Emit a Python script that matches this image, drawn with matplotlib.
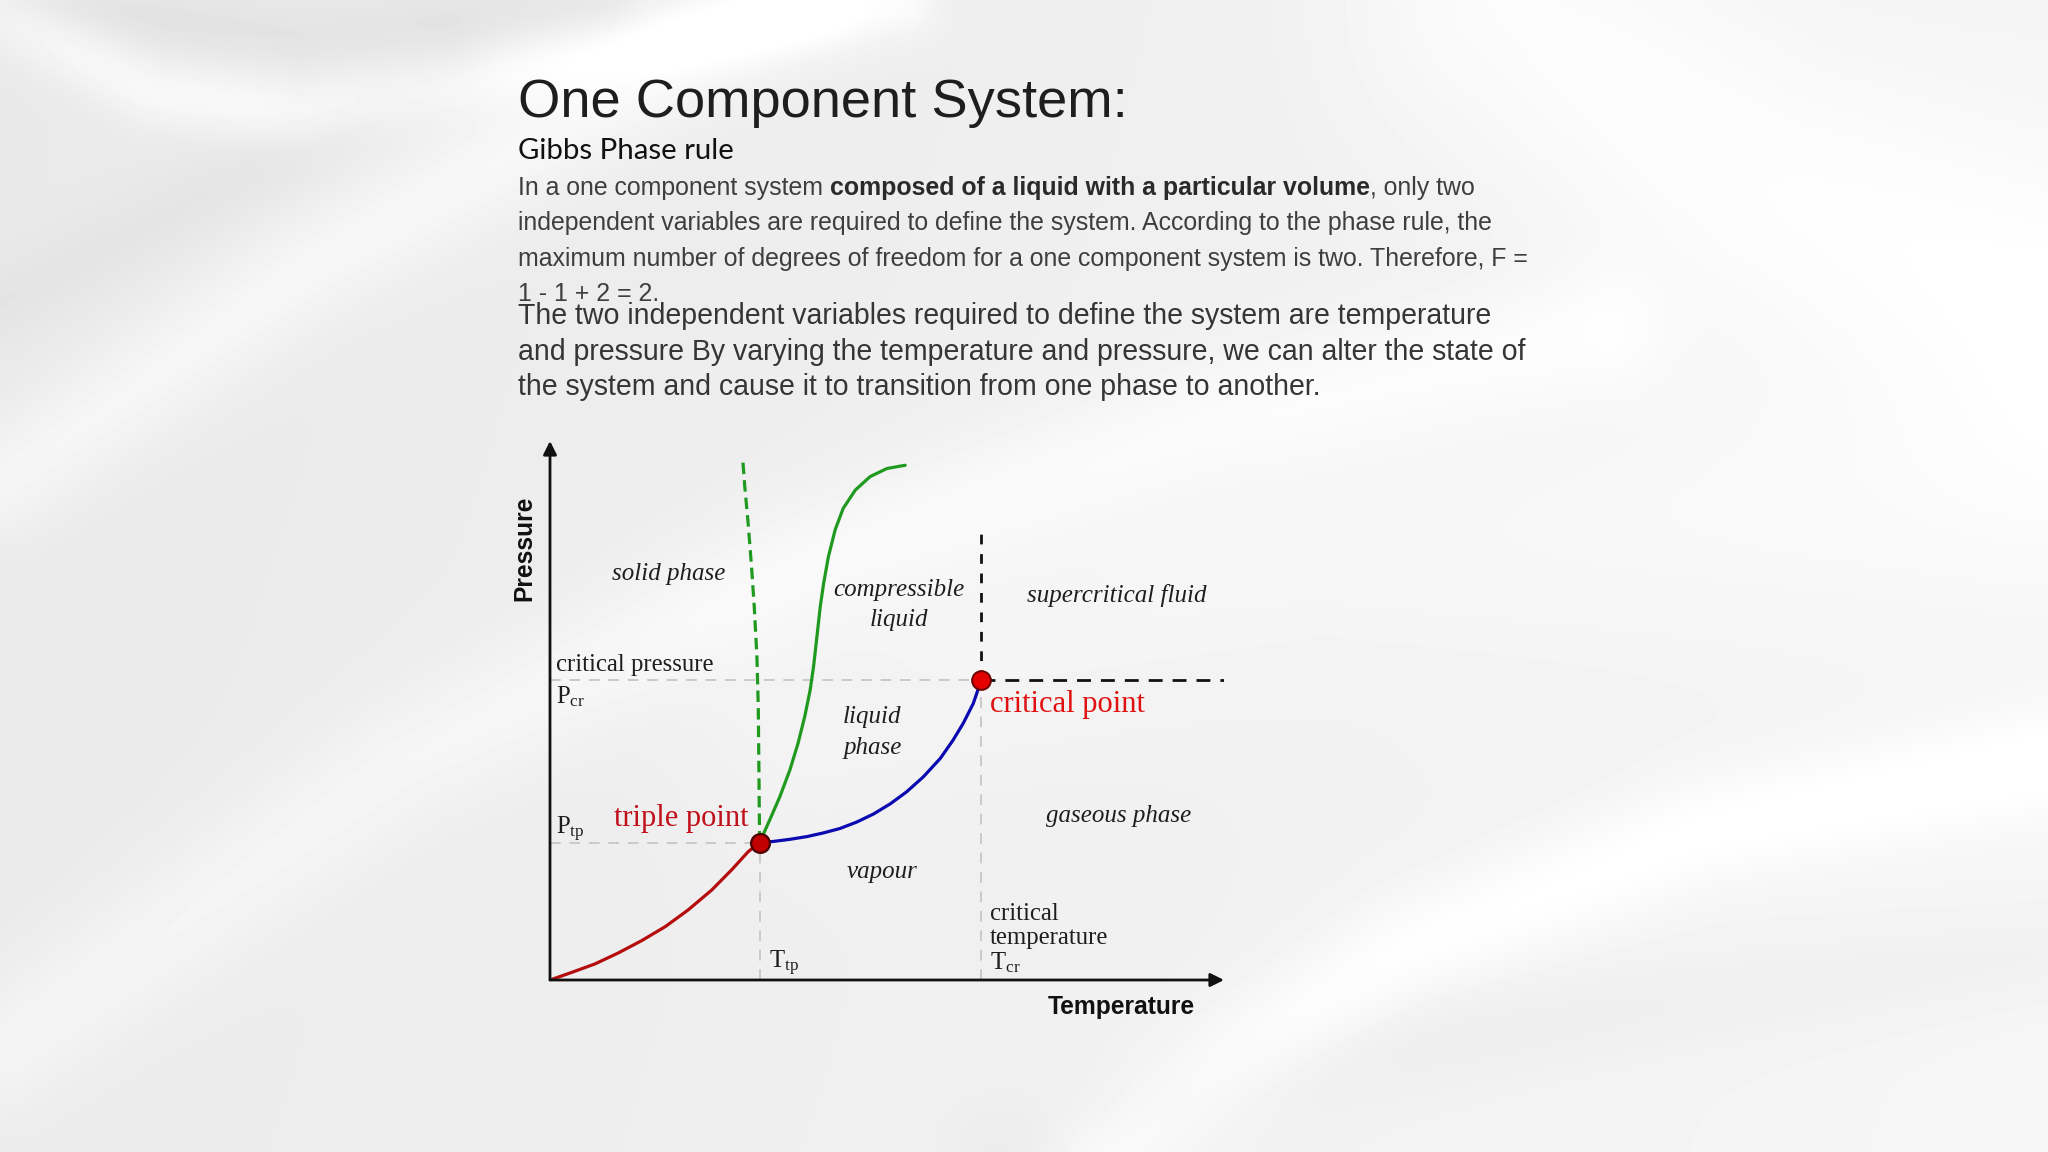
import numpy as np
import matplotlib
matplotlib.use("Agg")
import matplotlib.pyplot as plt

plt.rcParams['mathtext.fontset'] = 'custom'
plt.rcParams['mathtext.rm'] = 'Liberation Serif'
plt.rcParams['mathtext.it'] = 'Liberation Serif:italic'

# ---------------- data (normalised temperature T / pressure P, 0..100) -------------
sub_T = [0, 3.2, 6.7, 10.1, 13.6, 17.1, 20.5, 24.0, 27.0, 29.4, 31.1]          # sublimation curve
sub_P = [0, 1.4, 3.0, 5.0, 7.3, 9.9, 13.0, 16.7, 20.5, 23.8, 25.5]
vap_T = [31.1, 33.1, 35.6, 38.1, 40.6, 43.0, 45.5, 48.0, 50.5, 52.9, 55.4, 57.9,
         59.8, 61.3, 62.8, 64.0]                                                 # vaporisation curve
vap_P = [25.5, 25.7, 26.1, 26.6, 27.3, 28.1, 29.3, 30.8, 32.7, 34.9, 37.7, 41.1,
         44.5, 47.6, 51.3, 55.7]
fus_T = [31.1, 32.6, 34.1, 35.6, 36.8, 37.8, 38.6, 39.1, 39.6, 40.1, 40.6, 41.3,
         42.3, 43.5, 45.3, 47.5, 50.0, 52.7]                                     # melting curve
fus_P = [25.5, 29.7, 34.0, 39.0, 43.9, 48.9, 53.8, 58.1, 63.7, 69.3, 73.6, 78.5,
         83.5, 87.5, 90.9, 93.4, 94.9, 95.5]
anom_T = [31.1, 31.0, 30.9, 30.7, 30.3, 29.9, 29.4, 28.9, 28.6]                  # dashed melting curve
anom_P = [25.5, 38.3, 50.7, 60.0, 69.3, 76.7, 84.7, 91.5, 96.5]
T_tp, P_tp = 31.1, 25.5
T_cr, P_cr = 64.0, 55.7
P_cr_top = 84.2
axis_end = 100

title = "One Component System:"
subtitle = "Gibbs Phase rule"
p1_a = "In a one component system "
p1_b = "composed of a liquid with a particular volume"
p1_c = ", only two"
p1_lines = ["independent variables are required to define the system. According to the phase rule, the",
            "maximum number of degrees of freedom for a one component system is two. Therefore, F =",
            "1 - 1 + 2 = 2."]
p2_lines = ["The two independent variables required to define the system are temperature",
            "and pressure By varying the temperature and pressure, we can alter the state of",
            "the system and cause it to transition from one phase to another."]

W, H = 2048, 1152
fig = plt.figure(figsize=(W / 100, H / 100), dpi=100)

# ---------------- background (decorative soft waves) ---------------------------------
bg = fig.add_axes([0, 0, 1, 1])
s = 4
gy, gx = np.mgrid[0:H:s, 0:W:s].astype(float)
img = 0.912 + 0.045 * (gx / W) + 0.008 * (gy / H)

def seg_dist(px, py, pts):
    d = np.full(px.shape, 1e9)
    for (x1, y1), (x2, y2) in zip(pts[:-1], pts[1:]):
        dx, dy = x2 - x1, y2 - y1
        t = np.clip(((px - x1) * dx + (py - y1) * dy) / (dx * dx + dy * dy), 0, 1)
        d = np.minimum(d, np.hypot(px - (x1 + t * dx), py - (y1 + t * dy)))
    return d

bands = [
    ([(0, 10), (150, 90), (300, 110), (500, 70), (700, 30), (900, 0)], 35, 0.055),
    ([(0, 0), (300, 35), (600, 0)], 35, -0.025),
    ([(0, 480), (300, 270), (600, 100), (800, 0)], 55, 0.045),
    ([(0, 300), (250, 170), (450, 60)], 40, -0.02),
    ([(0, 1050), (400, 760), (800, 560), (1200, 420), (1600, 330)], 65, 0.035),
    ([(1500, 0), (1750, 180), (2048, 300)], 160, 0.04),
    ([(1100, 1152), (1400, 950), (1700, 830), (2048, 760)], 55, 0.045),
    ([(1000, 1152), (1350, 1050), (2048, 950)], 50, -0.018),
    ([(800, 700), (1300, 540), (2048, 480)], 130, 0.02),
]
for pts, w, a in bands:
    d = seg_dist(gx, gy, pts)
    img += a * np.exp(-(d / w) ** 2)
img = np.clip(img, 0, 1)
bg.imshow(img, cmap='gray', vmin=0, vmax=1, extent=(0, W, H, 0), interpolation='bilinear', aspect='auto')
bg.set_xlim(0, W)
bg.set_ylim(H, 0)
bg.axis('off')

renderer = fig.canvas.get_renderer()

def fit(t, target):
    w = t.get_window_extent(renderer).width
    t.set_fontsize(t.get_fontsize() * target / w)
    return t

sans = ['Liberation Sans', 'DejaVu Sans']
txtc = '#3e3e3e'

# ---------------- header text --------------------------------------------------------
t = bg.text(518, 117, title, family=sans, fontsize=39, color='#1e1e1e', va='baseline', ha='left')
fit(t, 610)
t = bg.text(518, 159, subtitle, family=['Lato', 'DejaVu Sans'], fontsize=22, color='#111111', va='baseline')
fit(t, 215)

y1 = 195
ref = bg.text(518, y1 + 35.3, p1_lines[0], family=sans, fontsize=17.5, color=txtc, va='baseline')
fit(ref, 974)
fs1 = ref.get_fontsize()
for i, line in enumerate(p1_lines[1:]):
    bg.text(518, y1 + 35.3 * (i + 2), line, family=sans, fontsize=fs1, color=txtc, va='baseline')
ta = bg.text(518, y1, p1_a, family=sans, fontsize=fs1, color=txtc, va='baseline')
tb = bg.annotate(p1_b, xy=(1, y1), xycoords=(ta, bg.transData), family=sans, fontsize=fs1,
                 color='#2a2a2a', fontweight='bold', va='baseline', ha='left')
tb.draw(renderer)
bg.annotate(p1_c, xy=(1, y1), xycoords=(tb, bg.transData), family=sans, fontsize=fs1,
            color=txtc, va='baseline', ha='left')

y2 = 324
r2 = bg.text(518, y2, p2_lines[0], family=sans, fontsize=20, color='#353535', va='baseline')
fit(r2, 972)
fs2 = r2.get_fontsize()
for i, line in enumerate(p2_lines[1:]):
    bg.text(518, y2 + 35.5 * (i + 1), line, family=sans, fontsize=fs2, color='#353535', va='baseline')

# ---------------- phase diagram ------------------------------------------------------
ax = fig.add_axes([550 / W, (H - 980) / H, 674 / W, 539 / H])
ax.set_xlim(0, 100)
ax.set_ylim(0, 100)
ax.axis('off')
ax.patch.set_alpha(0)

gray = '#c9c9c9'
gls = (0, (5.5, 4.5))
ax.plot([0, T_cr], [P_cr, P_cr], color=gray, lw=1.4, ls=gls, zorder=1)
ax.plot([0, T_tp], [P_tp, P_tp], color=gray, lw=1.4, ls=gls, zorder=1)
ax.plot([T_tp, T_tp], [0, P_tp], color=gray, lw=1.4, ls=gls, zorder=1)
ax.plot([T_cr, T_cr], [0, P_cr], color=gray, lw=1.4, ls=gls, zorder=1)
ax.plot([T_cr, T_cr], [P_cr, P_cr_top], color='#111111', lw=2, ls=(0, (3.5, 3.5)), zorder=2)
ax.plot([T_cr, axis_end], [P_cr, P_cr], color='#111111', lw=2, ls=(0, (5, 3.6)), zorder=2)

ax.plot(sub_T, sub_P, color='#b50d0d', lw=2.3, solid_capstyle='round', solid_joinstyle='round', zorder=3)
ax.plot(vap_T, vap_P, color='#0a0ab0', lw=2.3, solid_capstyle='round', solid_joinstyle='round', zorder=3)
ax.plot(fus_T, fus_P, color='#1f9a1f', lw=2.3, solid_capstyle='round', solid_joinstyle='round', zorder=3)
ax.plot(anom_T, anom_P, color='#1f9a1f', lw=2.3, ls=(0, (3.6, 1.9)), zorder=3)

ax.plot([T_tp], [P_tp], 'o', ms=13.5, mfc='#c00000', mec='#4a0000', mew=1.6, zorder=5)
ax.plot([T_cr], [P_cr], 'o', ms=13.5, mfc='#e50000', mec='#6a0000', mew=1.4, zorder=5)

ap = dict(arrowstyle='-|>', lw=2.0, color='#111111', mutation_scale=20, shrinkA=0, shrinkB=0)
ax.annotate('', xy=(0, axis_end), xytext=(0, 0), arrowprops=ap, zorder=4)
ax.annotate('', xy=(axis_end, 0), xytext=(0, 0), arrowprops=ap, zorder=4)

serif = ['Liberation Serif', 'DejaVu Serif']
lc = '#1e1e1e'
phase_labels = [("solid phase", 17.6, 75.4), ("compressible\nliquid", 51.7, 69.6),
                ("supercritical fluid", 84.1, 71.4), ("liquid\nphase", 47.8, 45.9),
                ("gaseous phase", 84.3, 30.4), ("vapour", 49.2, 20.0)]
for s_, x_, y_ in phase_labels:
    ax.text(x_, y_, s_, family=serif, style='italic', fontsize=18, color=lc, ha='center',
            va='center', linespacing=1.5)

ax.text(0.9, 58.5, "critical pressure", family=serif, fontsize=17.8, color=lc, ha='left', va='center')
ax.text(0.9, 52.6, r"P$_{\mathrm{cr}}$", family=serif, fontsize=17.8, color=lc, ha='left', va='center')
ax.text(0.9, 27.9, r"P$_{\mathrm{tp}}$", family=serif, fontsize=17.8, color=lc, ha='left', va='center')
ax.text(32.5, 3.0, r"T$_{\mathrm{tp}}$", family=serif, fontsize=17.8, color=lc, ha='left', va='center')
ax.text(65.3, 7.6, "critical\ntemperature\n" + r"T$_{\mathrm{cr}}$", family=serif, fontsize=17.8,
        color=lc, ha='left', va='center', linespacing=1.1)
ax.text(65.3, 51.2, "critical point", family=serif, fontsize=22, color='#e01010', ha='left', va='center')
ax.text(29.4, 30.0, "triple point", family=serif, fontsize=22, color='#c0101a', ha='right', va='center')

ax.text(84.7, -5.0, "Temperature", family=sans, fontweight='bold', fontsize=17.7, color='#111111',
        ha='center', va='center')
ax.text(-3.8, 80.0, "Pressure", family=sans, fontweight='bold', fontsize=17.7, color='#111111',
        ha='center', va='center', rotation=90)

fig.savefig("out.png", dpi=100)
